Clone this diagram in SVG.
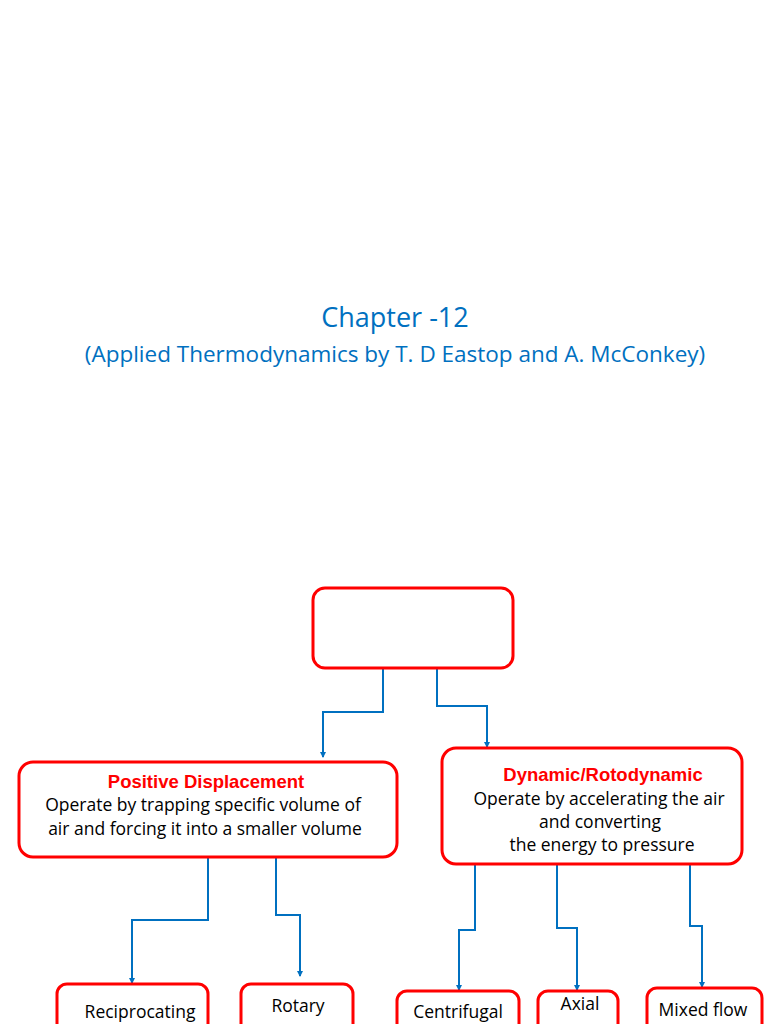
<svg xmlns="http://www.w3.org/2000/svg" width="768" height="1024" viewBox="0 0 768 1024">
<style>
.box{fill:#fff;stroke:#f00;stroke-width:3}
.t{font-family:"Open Sans","Liberation Sans",sans-serif;font-size:17.5px;fill:#000;text-anchor:middle}
.h{font-family:"Liberation Sans",sans-serif;font-size:18.5px;font-weight:bold;fill:#f00;text-anchor:middle}
.c{fill:none;stroke:#0070C0;stroke-width:2;marker-end:url(#a)}
.ttl{font-family:"Open Sans","Liberation Sans",sans-serif;fill:#0070C0;text-anchor:middle}
</style>
<defs><marker id="a" markerWidth="6" markerHeight="6" refX="5" refY="3" orient="auto" markerUnits="userSpaceOnUse"><path d="M0,0L6,3L0,6z" fill="#0070C0"/></marker></defs>
<rect width="768" height="1024" fill="#fff"/>
<text class="ttl" x="395" y="327" font-size="27">Chapter -12</text>
<text class="ttl" x="395" y="362" font-size="22.5">(Applied Thermodynamics by T. D Eastop and A. McConkey)</text>
<g id="connectors">
<path class="c" d="M383,668V712H323V757"/>
<path class="c" d="M437,668V706H487V747"/>
<path class="c" d="M208,857V920H132V983"/>
<path class="c" d="M276,857V915H300V976"/>
<path class="c" d="M475,864V930H459V990"/>
<path class="c" d="M557,864V928H577V990"/>
<path class="c" d="M690,864V926H702V987"/>
</g>
<g id="root"><rect class="box" x="313" y="588" width="200" height="80" rx="12"/></g>
<g id="pd"><rect class="box" x="19" y="762" width="378" height="95" rx="14"/>
<text class="h" x="206" y="788">Positive Displacement</text>
<text class="t" x="203" y="811">Operate by trapping specific volume of</text>
<text class="t" x="205" y="835">air and forcing it into a smaller volume</text></g>
<g id="dyn"><rect class="box" x="442" y="748" width="300" height="116" rx="14"/>
<text class="h" x="603" y="781">Dynamic/Rotodynamic</text>
<text class="t" x="599" y="805">Operate by accelerating the air</text>
<text class="t" x="600" y="828">and converting</text>
<text class="t" x="602" y="851">the energy to pressure</text></g>
<g id="recip"><rect class="box" x="57" y="984" width="151" height="60" rx="10"/><text class="t" x="140" y="1018">Reciprocating</text></g>
<g id="rotary"><rect class="box" x="241" y="984" width="112" height="60" rx="10"/><text class="t" x="298" y="1012">Rotary</text></g>
<g id="centri"><rect class="box" x="397" y="991" width="122" height="60" rx="10"/><text class="t" x="458" y="1018">Centrifugal</text></g>
<g id="axial"><rect class="box" x="538" y="991" width="80" height="60" rx="10"/><text class="t" x="580" y="1010">Axial</text></g>
<g id="mixed"><rect class="box" x="647" y="988" width="115" height="60" rx="10"/><text class="t" x="703" y="1016">Mixed flow</text></g>
</svg>
